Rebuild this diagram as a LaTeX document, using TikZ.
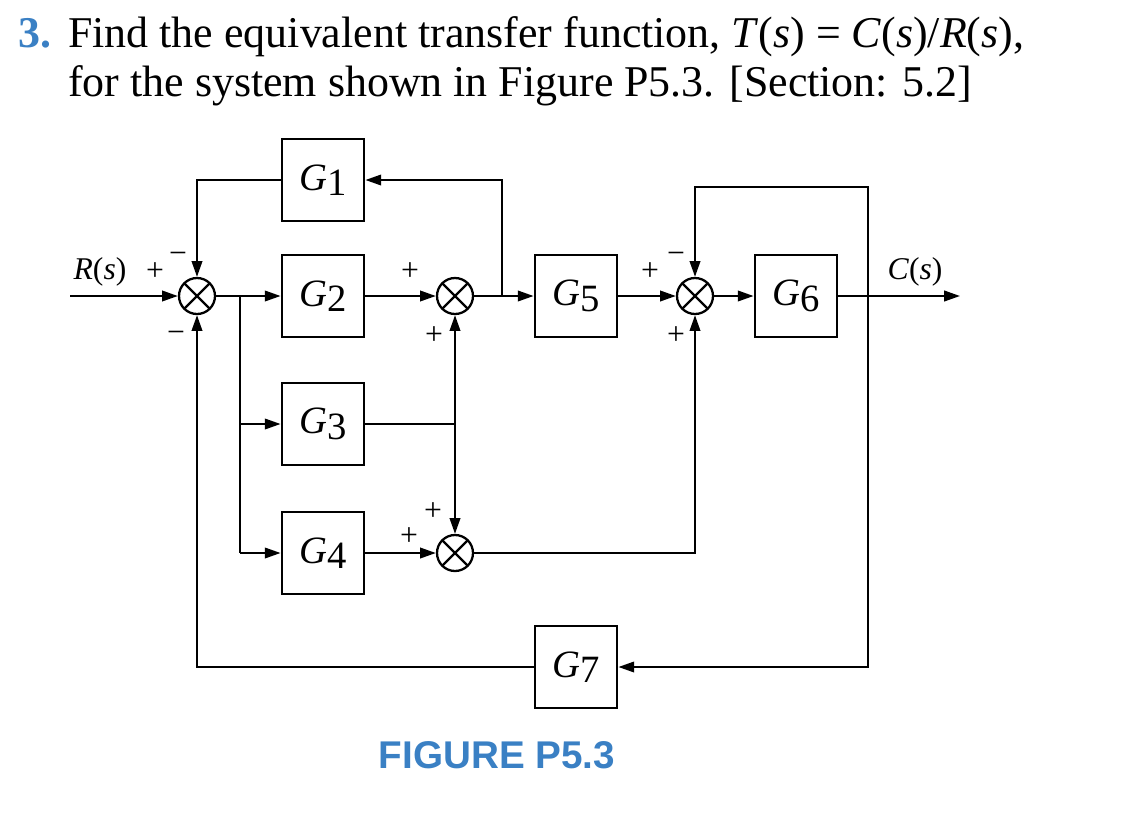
\documentclass[tikz,border=0pt]{standalone}
\usepackage{fontspec}
\setmainfont{Liberation Serif}
\newfontfamily\capfont{Liberation Sans}
\usetikzlibrary{arrows.meta}
\definecolor{tblue}{RGB}{58,128,196}
\newcommand{\iv}[1]{\textit{#1}}
\begin{document}
\begin{tikzpicture}[x=0.02cm,y=-0.02cm,
  blk/.style={draw,line width=1.6pt,minimum width=1.64cm,minimum height=1.64cm,inner sep=0pt,font=\fontsize{22}{24}\selectfont},
  sum/.style={draw,circle,line width=1.3pt,minimum size=0.72cm,inner sep=0pt,
    path picture={\draw[line width=1.3pt] (path picture bounding box.north west)--(path picture bounding box.south east) (path picture bounding box.north east)--(path picture bounding box.south west);}},
  w/.style={line width=1.2pt},
  a/.style={w,-{Triangle[length=9pt,width=6pt]}},
  sg/.style={font=\fontsize{18}{20}\selectfont}]
\useasboundingbox (0,0) rectangle (1146,822);
\node[anchor=base west,font=\fontsize{25}{28}\selectfont\bfseries,text=tblue] (num) at (12,47) {3.};
\node[anchor=base west,font=\fontsize{25}{28}\selectfont] (t1) at (62,47) {Find the equivalent transfer function, \iv{T}(\iv{s}) = \iv{C}(\iv{s})/\iv{R}(\iv{s}),};
\node[anchor=base west,font=\fontsize{25}{28}\selectfont] (t2) at (62,96) {for the system shown in Figure P5.3. [Section: 5.2]};
\newcommand{\gl}[1]{\iv{G}\raisebox{-3pt}{#1}}
\node[blk] (G1) at (323,180) {\gl{1}};
\node[blk] (G2) at (323,296) {\gl{2}};
\node[blk] (G3) at (323,424) {\gl{3}};
\node[blk] (G4) at (323,553) {\gl{4}};
\node[blk] (G5) at (576,296) {\gl{5}};
\node[blk] (G6) at (796,296) {\gl{6}};
\node[blk] (G7) at (576,667) {\gl{7}};
\node[sum] (S1) at (197,296) {};
\node[sum] (S2) at (455,296) {};
\node[sum] (S3) at (455,553) {};
\node[sum] (S4) at (695,296) {};
\coordinate (in) at (70,296);
\coordinate (out) at (960,296);
\coordinate (b1) at (240,296);
\coordinate (b3) at (240,424);
\coordinate (b4) at (240,553);
\coordinate (j3) at (455,424);
\coordinate (b5) at (502,296);
\coordinate (c5) at (502,180);
\coordinate (b6) at (868,296);
\coordinate (c6a) at (868,187);
\coordinate (c6b) at (695,187);
\coordinate (c7) at (868,667);
\coordinate (d7) at (197,667);
\coordinate (d1) at (197,180);
\coordinate (e3) at (695,553);
\draw[a] (in) -- (S1);
\draw[a] (S1) -- (G2);
\draw[w] (b1) -- (b4);
\draw[a] (b3) -- (G3);
\draw[a] (b4) -- (G4);
\draw[a] (G2) -- (S2);
\draw[w] (G3) -- (j3);
\draw[a] (j3) -- (S2);
\draw[a] (j3) -- (S3);
\draw[a] (G4) -- (S3);
\draw[a] (S2) -- (G5);
\draw[a] (b5) -- (c5) -- (G1);
\draw[a] (G1) -- (d1) -- (S1);
\draw[a] (G5) -- (S4);
\draw[a] (S4) -- (G6);
\draw[a] (G6) -- (out);
\draw[a] (S3) -- (e3) -- (S4);
\draw[a] (b6) -- (c6a) -- (c6b) -- (S4);
\draw[a] (b6) -- (c7) -- (G7);
\draw[a] (G7) -- (d7) -- (S1);
\node[sg] (lr) at (100,272) {\iv{R}(\iv{s})};
\node[sg] (lc) at (915,272) {\iv{C}(\iv{s})};
\node[sg] (p1) at (155,272) {+};
\node[sg] (m1) at (178,258) {\textminus};
\node[sg] (m2) at (176,337) {\textminus};
\node[sg] (p2) at (410,272) {+};
\node[sg] (p3) at (434,336) {+};
\node[sg] (p4) at (433,512) {+};
\node[sg] (p5) at (409,537) {+};
\node[sg] (p6) at (650,272) {+};
\node[sg] (m3) at (676,258) {\textminus};
\node[sg] (p7) at (676,336) {+};
\node[font=\fontsize{22}{24}\selectfont\bfseries\capfont,text=tblue] (cap) at (497,755) {FIGURE P5.3};
\end{tikzpicture}
\end{document}
